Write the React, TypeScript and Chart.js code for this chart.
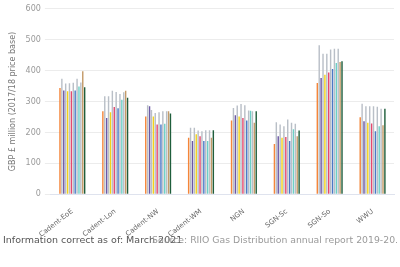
import React, { useEffect, useRef } from "react";
import { Chart, registerables } from "chart.js";
Chart.register(...registerables);

const categories = ["Cadent-EoE", "Cadent-Lon", "Cadent-NW", "Cadent-WM", "NGN", "SGN-Sc", "SGN-So", "WWU"];
const yTicks = [0, 100, 200, 300, 400, 500, 600];

const orangeVals = [344, 269, 252, 183, 239, 163, 360, 249];
const gray1Vals = [374, 317, 288, 215, 279, 233, 482, 293];
const purpleVals = [336, 247, 285, 172, 256, 188, 376, 236];
const gray2Vals = [358, 317, 273, 215, 287, 226, 455, 285];
const yellowVals = [333, 265, 252, 194, 252, 183, 387, 231];
const gray3Vals = [359, 335, 263, 206, 292, 220, 455, 285];
const pinkVals = [333, 282, 226, 188, 247, 185, 394, 229];
const gray4Vals = [361, 331, 265, 204, 288, 242, 468, 285];
const blueVals = [336, 278, 226, 172, 239, 172, 405, 204];
const gray5Vals = [374, 324, 269, 207, 271, 231, 471, 283];
const tealVals = [349, 306, 228, 172, 270, 210, 425, 220];
const gray6Vals = [362, 330, 269, 207, 269, 228, 471, 277];
const tanVals = [398, 335, 269, 183, 231, 188, 428, 223];
const greenVals = [346, 312, 261, 207, 269, 206, 430, 277];

const GRAY = "#b9bfc7";
const seriesList = [
  { data: orangeVals, color: "#f4863a" },
  { data: gray1Vals, color: GRAY },
  { data: purpleVals, color: "#6b57a5" },
  { data: gray2Vals, color: GRAY },
  { data: yellowVals, color: "#f3d21a" },
  { data: gray3Vals, color: GRAY },
  { data: pinkVals, color: "#e5486e" },
  { data: gray4Vals, color: GRAY },
  { data: blueVals, color: "#4a78c6" },
  { data: gray5Vals, color: GRAY },
  { data: tealVals, color: "#6cd0c6" },
  { data: gray6Vals, color: GRAY },
  { data: tanVals, color: "#c49a68" },
  { data: greenVals, color: "#1f5e3c" },
];

const footerLeft = "Information correct as of: March 2021";
const footerRight = "Source: RIIO Gas Distribution annual report 2019-20.";
const FONT = "'DejaVu Sans', sans-serif";

export default function App() {
  const ref = useRef<HTMLCanvasElement>(null);
  useEffect(() => {
    document.body.style.margin = "0";
    const footer = {
      id: "footer",
      afterDraw(chart: any) {
        const ctx = chart.ctx;
        ctx.save();
        ctx.textBaseline = "middle";
        ctx.textAlign = "left";
        ctx.fillStyle = "#555";
        ctx.font = `9.5px ${FONT}`;
        ctx.fillText(footerLeft, 3, 241);
        ctx.textAlign = "right";
        ctx.fillStyle = "#9a9a9a";
        ctx.font = `9.3px ${FONT}`;
        ctx.fillText(footerRight, 398, 241);
        ctx.restore();
      },
    };
    const chart = new Chart(ref.current!, {
      type: "bar",
      data: {
        labels: categories,
        datasets: seriesList.map((s, i) => ({
          label: "s" + i,
          data: s.data,
          backgroundColor: s.color,
          borderWidth: 0,
          barPercentage: 0.75,
          categoryPercentage: 0.62,
        })),
      },
      options: {
        responsive: false,
        animation: false,
        layout: { padding: { left: 4, right: 6, top: 3, bottom: 23 } },
        plugins: { legend: { display: false }, tooltip: { enabled: false } },
        scales: {
          x: {
            grid: { display: false },
            border: { color: "#dfe3ee" },
            ticks: { color: "#666", font: { size: 7, family: FONT }, minRotation: 38, maxRotation: 38, padding: 5 },
          },
          y: {
            min: 0,
            max: 600,
            afterBuildTicks: (axis: any) => {
              axis.ticks = yTicks.map((v) => ({ value: v }));
            },
            grid: { color: "#ececec", tickLength: 6 },
            border: { display: false },
            ticks: { color: "#999", font: { size: 8, family: FONT }, padding: 4 },
            title: { display: true, text: "GBP £ million (2017/18 price base)", color: "#777", font: { size: 8, family: FONT } },
          },
        },
      },
      plugins: [footer],
    });
    return () => chart.destroy();
  }, []);
  return (
    <div style={{ width: 400, height: 267, position: "relative" }}>
      <canvas ref={ref} width={400} height={267} style={{ width: 400, height: 267 }} />
    </div>
  );
}
